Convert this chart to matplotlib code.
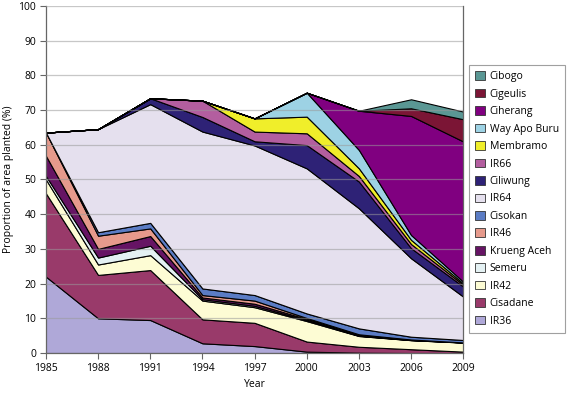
import numpy as np
import matplotlib
matplotlib.use("Agg")
import matplotlib.pyplot as plt
from matplotlib.patches import Patch

plt.rcParams['font.family'] = ['Open Sans', 'DejaVu Sans']

years = ["1985", "1988", "1991", "1994", "1997", "2000", "2003", "2006", "2009"]

# stacking order: bottom -> top
varieties = ["IR36", "Cisadane", "IR42", "Semeru", "Krueng Aceh", "IR46", "Cisokan",
             "IR64", "Ciliwung", "IR66", "Membramo", "Way Apo Buru", "Ciherang",
             "Cigeulis", "Cibogo"]

ir36        = [22.0, 10.0,  9.5,  2.8,  2.0,  0.4,  0.1,  0.0,  0.0]
cisadane    = [24.0, 12.5, 14.4,  6.9,  6.7,  2.9,  1.7,  1.1,  0.4]
ir42        = [ 4.0,  3.0,  4.3,  5.4,  4.5,  5.9,  3.1,  2.6,  2.6]
semeru      = [ 1.0,  2.0,  2.7,  0.4,  0.4,  0.3,  0.1,  0.05, 0.05]
krueng_aceh = [ 5.8,  2.5,  2.8,  0.5,  0.6,  0.3,  0.2,  0.05, 0.0]
ir46        = [ 6.7,  3.8,  2.2,  0.7,  0.9,  0.3,  0.2,  0.1,  0.0]
cisokan     = [ 0.0,  1.0,  1.6,  1.9,  1.6,  1.3,  1.7,  0.8,  0.7]
ir64        = [ 0.0, 29.7, 34.2, 45.2, 43.1, 41.8, 34.6, 22.6, 12.5]
ciliwung    = [ 0.0,  0.0,  1.7,  4.2,  1.2,  6.7,  7.7,  2.9,  2.9]
ir66        = [ 0.0,  0.0,  0.0,  4.7,  2.8,  3.4,  1.6,  1.2,  0.5]
membramo    = [ 0.0,  0.0,  0.0,  0.0,  3.8,  4.8,  2.2,  1.2,  0.4]
way_apo     = [ 0.0,  0.0,  0.0,  0.0,  0.0,  6.9,  5.3,  1.4,  0.5]
ciherang    = [ 0.0,  0.0,  0.0,  0.0,  0.0,  0.0, 11.3, 34.3, 40.4]
cigeulis    = [ 0.0,  0.0,  0.0,  0.0,  0.0,  0.0,  0.0,  2.2,  6.4]
cibogo      = [ 0.0,  0.0,  0.0,  0.0,  0.0,  0.0,  0.0,  2.6,  2.2]

series = [ir36, cisadane, ir42, semeru, krueng_aceh, ir46, cisokan, ir64,
          ciliwung, ir66, membramo, way_apo, ciherang, cigeulis, cibogo]

colors = ["#afa8d8", "#993a6a", "#fdfcd4", "#e4f1f3", "#661464", "#e69a8c",
          "#5b7cc4", "#e5e0ee", "#2e2276", "#b35e9f", "#f0ee2a", "#9dd2e4",
          "#800080", "#7b1535", "#5a9794"]

fig = plt.figure(figsize=(5.67, 3.94), dpi=100)
ax = fig.add_axes([0.081, 0.104, 0.736, 0.881])

x = np.arange(len(years))
ax.stackplot(x, *series, colors=colors, edgecolor="black", linewidth=0.8,
             zorder=2)

ax.set_xlim(0, len(years) - 1)
ax.set_ylim(0, 100)
ax.set_xticks(x)
ax.set_xticklabels(years)
ax.set_yticks(np.arange(0, 101, 10))
ax.tick_params(axis="both", labelsize=7.5, direction="out", length=4,
               color="#666666", pad=3)

for yv in range(10, 101, 10):
    ax.axhline(yv, color="#9a9a9a", linewidth=0.9, alpha=0.55, zorder=3)

for side in ["top"]:
    ax.spines[side].set_visible(False)
for side in ["left", "bottom", "right"]:
    ax.spines[side].set_color("#666666")
    ax.spines[side].set_linewidth(0.9)

ax.set_xlabel("Year", fontsize=7.5, labelpad=4)
ax.xaxis.set_label_coords(0.5, -0.075)
ax.set_ylabel("Proportion of area planted (%)", fontsize=7.5, labelpad=3)

handles = [Patch(facecolor=c, edgecolor="#333333", linewidth=0.6, label=n)
           for n, c in zip(varieties, colors)][::-1]
leg = fig.legend(handles=handles, loc="upper left",
                 bbox_to_anchor=(469 / 567, 1 - 65 / 394),
                 fontsize=7.5, frameon=True, fancybox=False,
                 handlelength=0.9, handleheight=0.9, handletextpad=0.5,
                 labelspacing=0.62, borderpad=0.6, borderaxespad=0)
leg.get_frame().set_edgecolor("#888888")
leg.get_frame().set_linewidth(0.8)

fig.savefig("out.png", dpi=100)
